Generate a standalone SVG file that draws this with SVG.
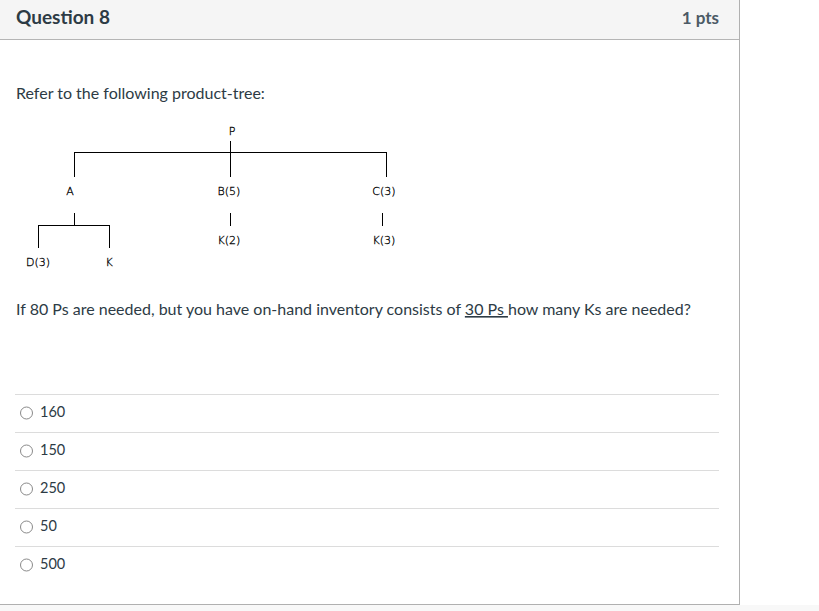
<svg xmlns="http://www.w3.org/2000/svg" width="819" height="611" viewBox="0 0 819 611">
<style>
.hd{font-family:Lato,"Liberation Sans",sans-serif;font-weight:bold;fill:#2d3b45}
.tx{font-family:Lato,"Liberation Sans",sans-serif;font-size:16px;fill:#2d3b45}
.ans{font-family:Lato,"Liberation Sans",sans-serif;font-size:14.5px;fill:#2d3b45}
.tr{font-family:"DejaVu Sans","Liberation Sans",sans-serif;font-size:11px;font-weight:200;fill:#000;stroke:#000;stroke-width:0.3;text-anchor:middle}
.ln{stroke:#000;stroke-width:1;fill:none}
.sep{stroke:#dcdcdc;stroke-width:1}
.rb{fill:#fff;stroke:#8a8a8a;stroke-width:1}
</style>
<rect x="0" y="0" width="819" height="611" fill="#fff"/>
<rect x="0" y="605" width="819" height="6" fill="#f8f8f8"/>
<rect x="0" y="0" width="739" height="39" fill="#f5f5f5"/>
<line x1="0" y1="39.5" x2="739" y2="39.5" stroke="#b5b5b5"/>
<line x1="739.5" y1="0" x2="739.5" y2="605" stroke="#b0b0b0"/>
<line x1="0" y1="604.5" x2="740" y2="604.5" stroke="#b0b0b0"/>
<text class="hd" x="16" y="24" font-size="19">Question 8</text>
<text class="hd" x="719" y="24" font-size="17" text-anchor="end" style="fill:#4b5a66">1 pts</text>
<text class="tx" x="16" y="99">Refer to the following product-tree:</text>

<g id="connectors">
<line class="ln" x1="74" y1="152.5" x2="387" y2="152.5"/>
<line class="ln" x1="230.5" y1="141" x2="230.5" y2="177"/>
<line class="ln" x1="74.5" y1="152" x2="74.5" y2="177"/>
<line class="ln" x1="386.5" y1="152" x2="386.5" y2="177"/>
<line class="ln" x1="74.5" y1="213" x2="74.5" y2="225"/>
<line class="ln" x1="38" y1="225.5" x2="110" y2="225.5"/>
<line class="ln" x1="38.5" y1="225" x2="38.5" y2="248"/>
<line class="ln" x1="109.5" y1="225" x2="109.5" y2="248"/>
<line class="ln" x1="230.5" y1="213" x2="230.5" y2="226"/>
<line class="ln" x1="382.5" y1="213" x2="382.5" y2="226"/>
</g>
<g id="node-P"><text class="tr" x="232" y="135">P</text></g>
<g id="node-A"><text class="tr" x="70" y="195">A</text></g>
<g id="node-B"><text class="tr" x="229" y="195">B(5)</text></g>
<g id="node-C"><text class="tr" x="384" y="195">C(3)</text></g>
<g id="node-K2"><text class="tr" x="229" y="244">K(2)</text></g>
<g id="node-K3"><text class="tr" x="384" y="244">K(3)</text></g>
<g id="node-D"><text class="tr" x="38" y="266">D(3)</text></g>
<g id="node-K"><text class="tr" x="109" y="266">K</text></g>

<text class="tx" x="16" y="315">If 80 Ps are needed, but you have on-hand inventory consists of <tspan text-decoration="underline">30 Ps </tspan>how many Ks are needed?</text>

<line class="sep" x1="15" y1="394.5" x2="719" y2="394.5"/>
<line class="sep" x1="15" y1="432.5" x2="719" y2="432.5"/>
<line class="sep" x1="15" y1="470.5" x2="719" y2="470.5"/>
<line class="sep" x1="15" y1="508.5" x2="719" y2="508.5"/>
<line class="sep" x1="15" y1="546.5" x2="719" y2="546.5"/>
<circle class="rb" cx="26.5" cy="413" r="6"/>
<circle class="rb" cx="26.5" cy="451" r="6"/>
<circle class="rb" cx="26.5" cy="489" r="6"/>
<circle class="rb" cx="26.5" cy="527" r="6"/>
<circle class="rb" cx="26.5" cy="565" r="6"/>
<text class="ans" x="40" y="417">160</text>
<text class="ans" x="40" y="455">150</text>
<text class="ans" x="40" y="493">250</text>
<text class="ans" x="40" y="531">50</text>
<text class="ans" x="40" y="569">500</text>
</svg>
